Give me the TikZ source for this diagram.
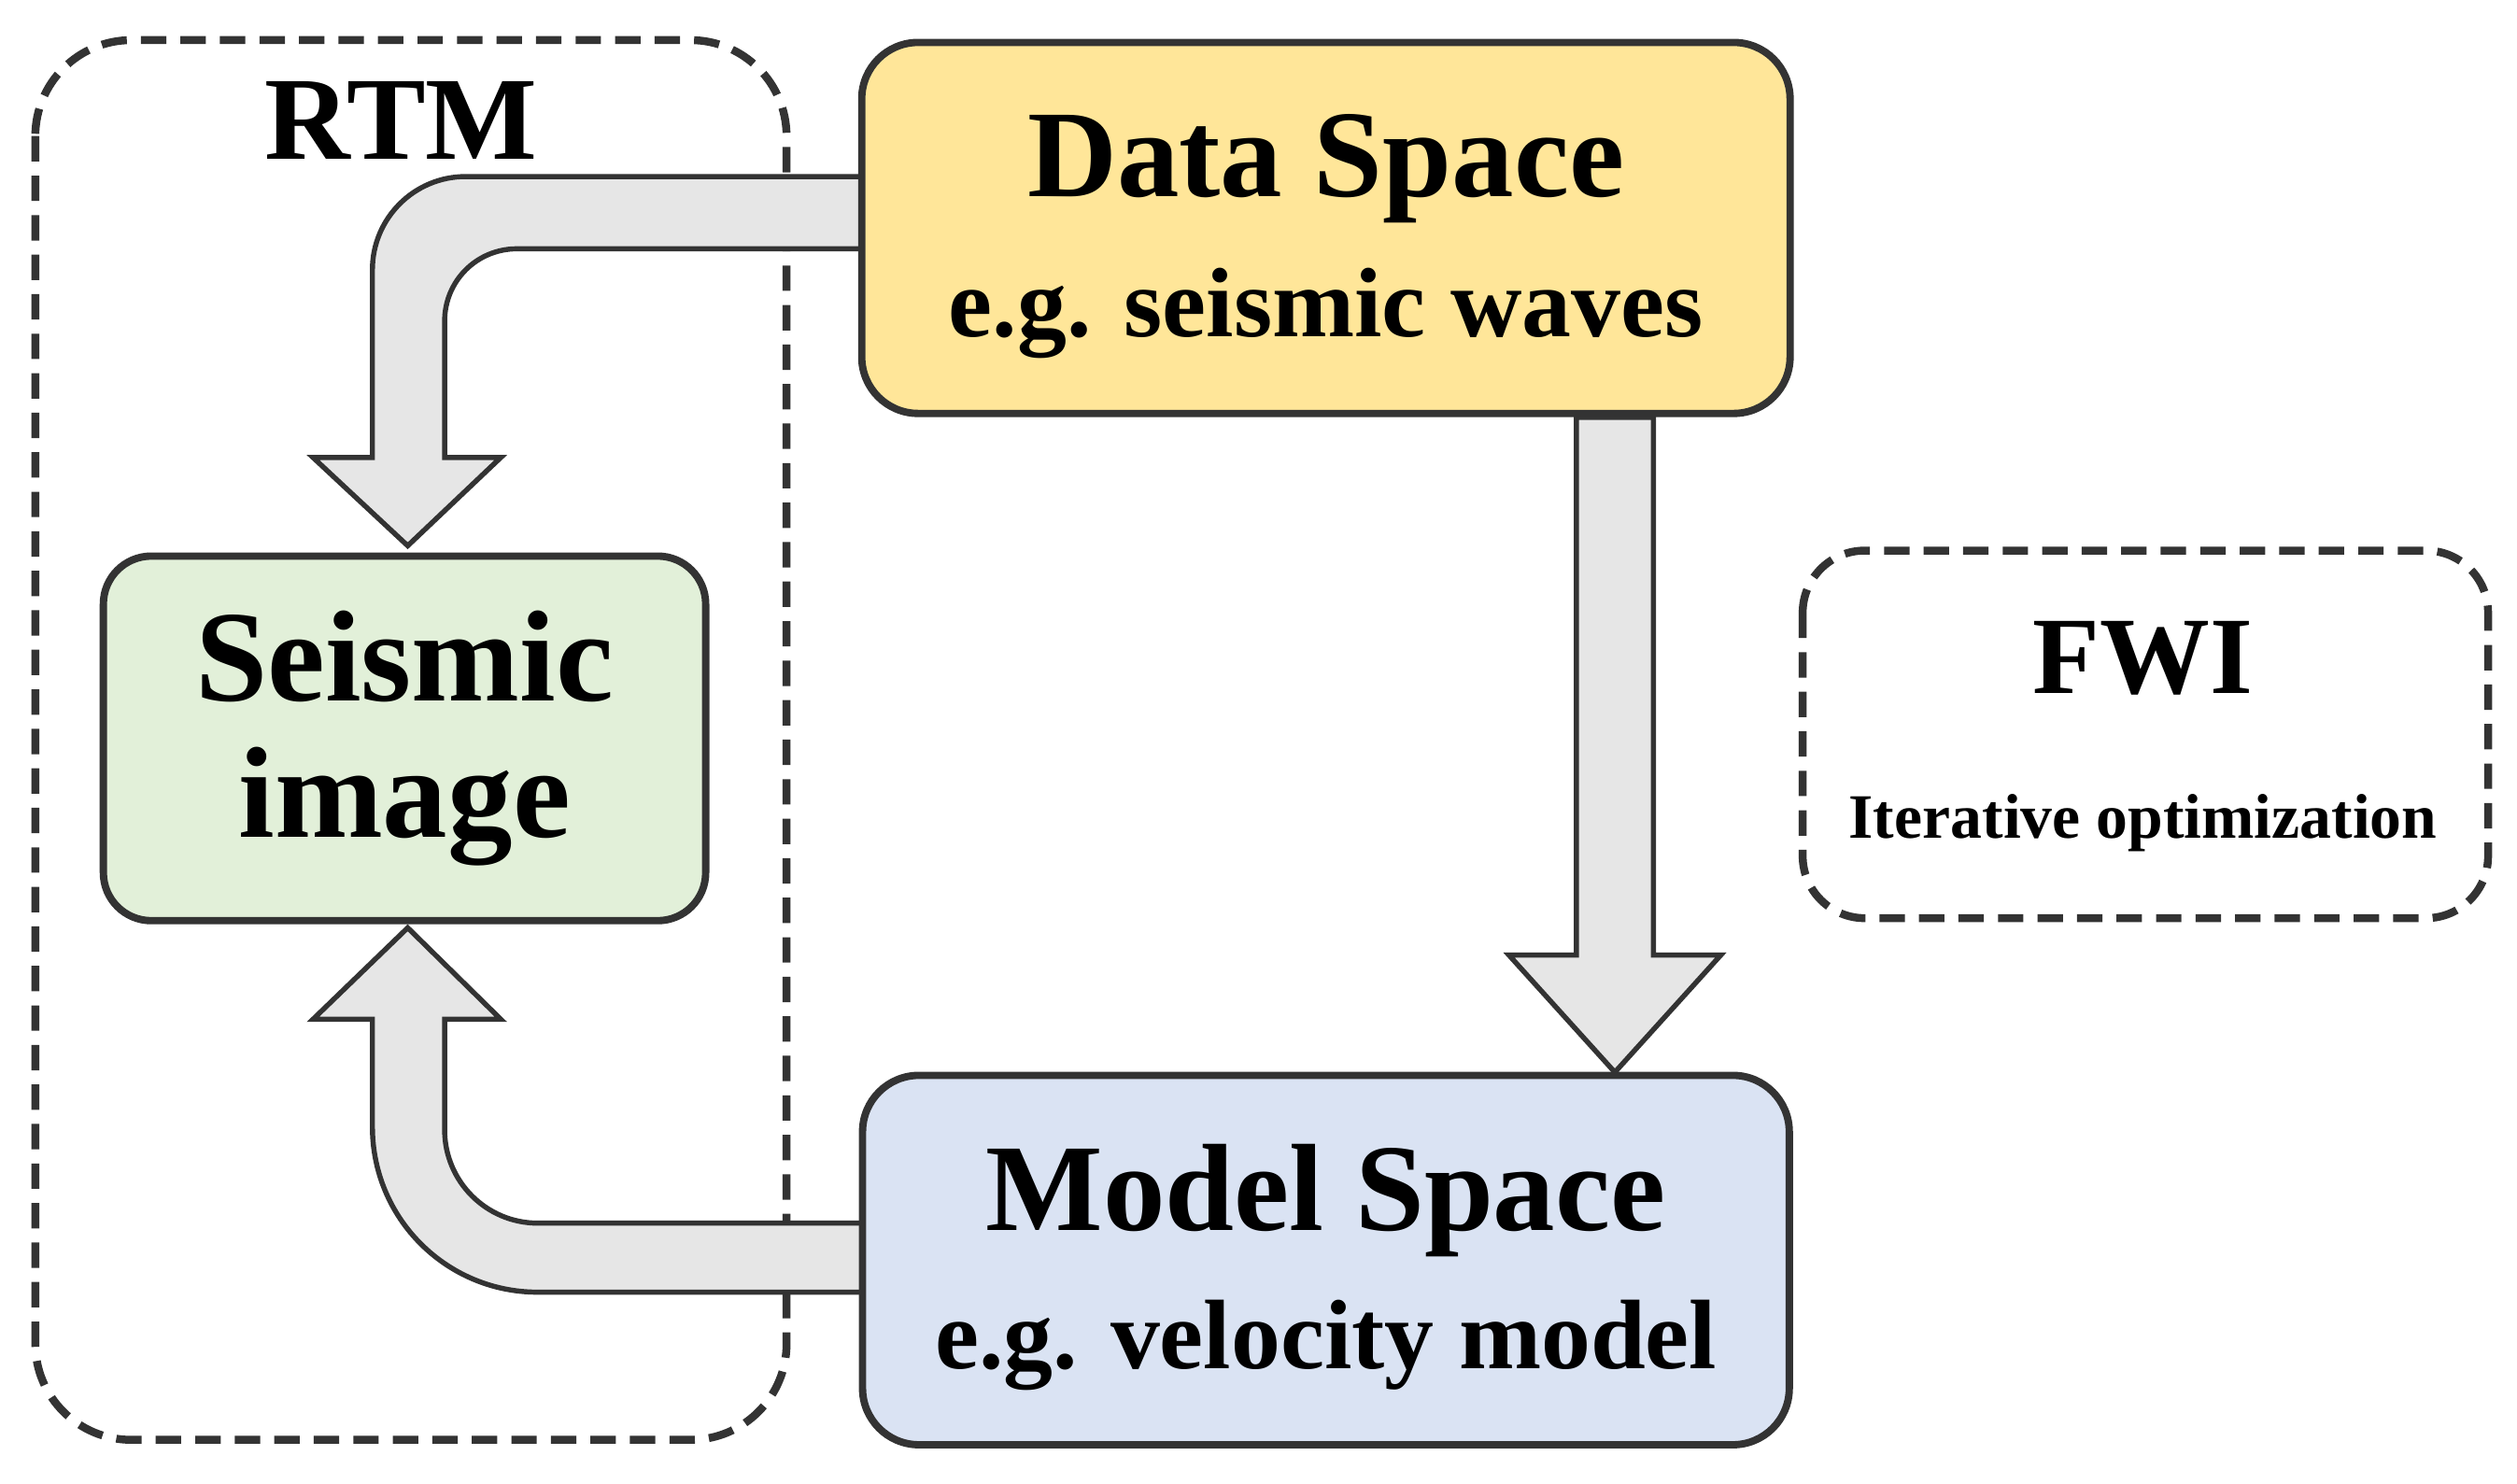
\documentclass[tikz,border=0pt]{standalone}
\usepackage{fontspec}
\setmainfont{Liberation Serif}
\usetikzlibrary{positioning,calc}
\definecolor{rtmdata}{RGB}{255,230,153}
\definecolor{rtmimage}{RGB}{226,240,217}
\definecolor{rtmmodel}{RGB}{218,227,243}
\definecolor{rtmarrow}{RGB}{230,230,230}
\definecolor{rtmline}{RGB}{51,51,51}
\tikzset{
    space box/.style={
        rectangle,
        rounded corners=10pt,
        draw=rtmline,
        line width=1.3pt,
        inner sep=0pt,
        align=center,
        font=\bfseries
    },
    group box/.style={
        rectangle,
        draw=rtmline,
        dash pattern=on 4.5pt off 2.5pt,
        line width=1.4pt,
        inner sep=0pt
    },
    block arrow/.style={fill=rtmarrow, draw=rtmline, line width=0.9pt, line join=miter}
}
\begin{document}
\begin{tikzpicture}[x=0.01cm,y=-0.01cm]
    \useasboundingbox (0,0) rectangle (1568,924);
    %Dashed groups
    \draw[group box, rounded corners=17pt] (22,25) rectangle (490,897);
    \node[font=\bfseries\fontsize{21}{25}\selectfont] (rtm) at (250,75) {RTM};
    \draw[group box, rounded corners=11pt] (1123,343) rectangle (1550,572);
    \node[font=\bfseries\fontsize{19.5}{24}\selectfont] (fwi) at (1335,410) {FWI};
    \node[font=\bfseries\fontsize{11.2}{14}\selectfont] (iter) at (1335,513) {Iterative optimization};

    %Arrows
    \draw[block arrow] (537,110) -- (290,110) .. controls (258,110) and (232,136) .. (232,168) -- (232,285) -- (195,285) -- (254,340) -- (312,285) -- (277,285) -- (277,200) .. controls (277,175) and (297,155) .. (322,155) -- (537,155) -- cycle;
    \draw[block arrow] (537,805) -- (335,805) .. controls (278,805) and (232,759) .. (232,702) -- (232,635) -- (195,635) -- (254,578) -- (312,635) -- (277,635) -- (277,704) .. controls (277,736) and (303,762) .. (335,762) -- (537,762) -- cycle;
    \draw[block arrow] (982,260) -- (982,595) -- (940,595) -- (1006,668) -- (1072,595) -- (1030,595) -- (1030,260) -- cycle;

    %Spaces
    \node[space box, fill=rtmdata, minimum width=5.78cm, minimum height=2.31cm] (data) at (826,142) {};
    \node[font=\bfseries\fontsize{22}{26}\selectfont] (data-title) at (826,105) {Data Space};
    \node[font=\bfseries\fontsize{17.5}{21}\selectfont] (data-sub) at (826,195) {e.g. seismic waves};

    \node[space box, fill=rtmimage, minimum width=3.75cm, minimum height=2.27cm, rounded corners=8.5pt,
          font=\bfseries\fontsize{23}{24}\selectfont] (image) at (252,460) {Seismic\\image};

    \node[space box, fill=rtmmodel, minimum width=5.77cm, minimum height=2.30cm] (model) at (826,785) {};
    \node[font=\bfseries\fontsize{22}{26}\selectfont] (model-title) at (826,748) {Model Space};
    \node[font=\bfseries\fontsize{17.5}{21}\selectfont] (model-sub) at (826,838) {e.g. velocity model};
\end{tikzpicture}
\end{document}
